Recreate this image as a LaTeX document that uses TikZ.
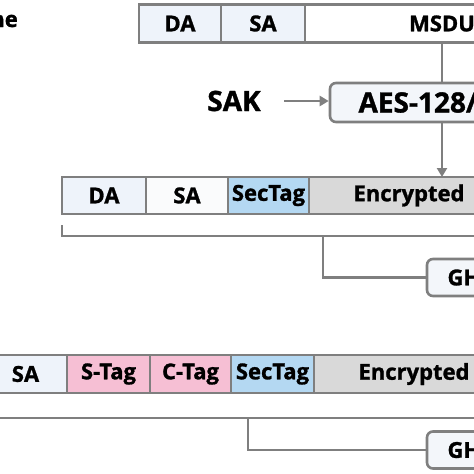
\documentclass[tikz,border=0pt]{standalone}
\usepackage{fontspec}
\setmainfont{Open Sans}[BoldFeatures={FakeBold=1.2}]
\usetikzlibrary{arrows.meta, positioning}
\definecolor{framegray}{HTML}{7F7F7F}
\definecolor{cellpale}{HTML}{EEF3FA}
\definecolor{cellwhite}{HTML}{FAFBFC}
\definecolor{sectagblue}{HTML}{B4D8F2}
\definecolor{vlanpink}{HTML}{F6BFD4}
\definecolor{encgray}{HTML}{D9D9D9}
\definecolor{algofill}{HTML}{F3F6FA}
\tikzset{
  fieldbox/.style={draw=framegray, line width=2.6pt, minimum height=38pt, inner sep=0pt, outer sep=0pt,
                   font=\fontsize{22}{24}\selectfont\bfseries, anchor=west},
  algobox/.style={draw=framegray, line width=2.6pt, rounded corners=6pt, fill=algofill, inner sep=0pt,
                  minimum height=37pt},
  linkline/.style={framegray, line width=2.4pt},
  linkarrow/.style={linkline, -{Triangle[length=9pt, width=10pt]}},
}

\begin{document}
\begin{tikzpicture}[x=1pt, y=-1pt]
  \useasboundingbox (0,0) rectangle (474,474);
  \node[anchor=base east, inner sep=0pt, font=\fontsize{22}{24}\selectfont\bfseries] (title) at (18,27) {Ethernet Frame};

  \node[fieldbox, fill=cellpale, minimum width=82pt] (da1) at (139,23.5) {DA};
  \node[fieldbox, fill=cellpale, minimum width=84pt, right=0pt of da1] (sa1) {SA};
  \node[fieldbox, fill=white, minimum width=274pt, right=0pt of sa1] (msdu) {MSDU};

  \node[font=\fontsize{28}{30}\selectfont\bfseries] (sak) at (234,101) {SAK};
  \node[algobox, minimum width=224pt, minimum height=39pt, font=\fontsize{28}{30}\selectfont\bfseries] (aes) at (442,102.5) {AES-128/256};

  \node[fieldbox, fill=cellpale, minimum width=84pt, minimum height=37pt] (da2) at (62,195.5) {DA};
  \node[fieldbox, fill=cellwhite, minimum width=82pt, minimum height=37pt, right=0pt of da2] (sa2) {SA};
  \node[fieldbox, fill=sectagblue, minimum width=81pt, minimum height=37pt, right=0pt of sa2] (sec2) {SecTag};
  \node[fieldbox, fill=encgray, minimum width=200pt, minimum height=37pt, right=0pt of sec2] (enc2) {Encrypted};
  \node[algobox, minimum width=118pt, font=\fontsize{22}{24}\selectfont\bfseries] (gh2) at (486,277.5) {GHASH};

  \node[fieldbox, fill=cellpale, minimum width=83pt] (sa3) at (-16,374) {SA};
  \node[fieldbox, fill=vlanpink, minimum width=83pt, right=0pt of sa3] (stag3) {S-Tag};
  \node[fieldbox, fill=vlanpink, minimum width=81pt, right=0pt of stag3] (ctag3) {C-Tag};
  \node[fieldbox, fill=sectagblue, minimum width=83pt, right=0pt of ctag3] (sec3) {SecTag};
  \node[fieldbox, fill=encgray, minimum width=200pt, right=0pt of sec3] (enc3) {Encrypted};
  \node[algobox, minimum width=118pt, font=\fontsize{22}{24}\selectfont\bfseries] (gh3) at (486,450) {GHASH};

  \draw[linkline] (msdu.south) -- (aes.north);
  \draw[linkarrow, shorten <=20pt] (sak.east) -- (sak.east -| aes.west);
  \draw[linkarrow] (aes.south) -- (aes.south |- enc2.north);

  \draw[linkline] (62,225) -- (62,236) -- (600,236);
  \coordinate (brace2) at (323,236);
  \draw[linkline] (brace2) |- (gh2.west);

  \draw[linkline] (-100,418) -- (600,418);
  \coordinate (brace3) at (248,418);
  \draw[linkline] (brace3) |- (gh3.west);
\end{tikzpicture}
\end{document}
